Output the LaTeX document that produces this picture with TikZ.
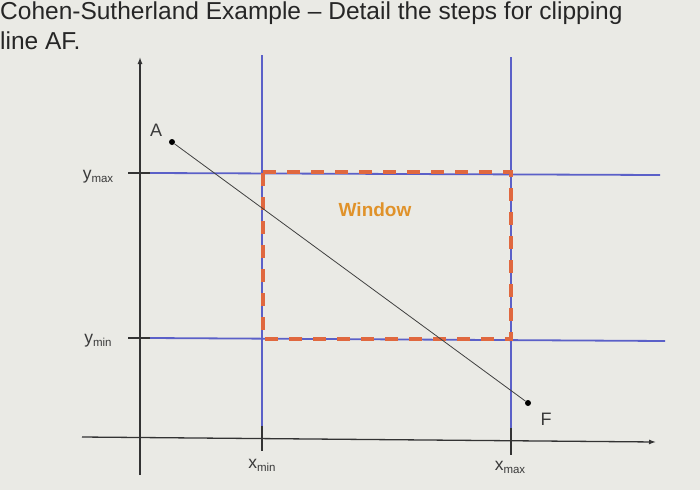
\documentclass[tikz,border=0pt]{standalone}
\usepackage{fontspec}
\usetikzlibrary{arrows.meta}
\setmainfont{Liberation Sans}
\definecolor{bg}{HTML}{EAEAE5}
\definecolor{gridblue}{HTML}{5B60C8}
\definecolor{winred}{HTML}{E0683F}
\definecolor{wintext}{HTML}{E0922A}
\definecolor{axisc}{HTML}{333333}
\definecolor{txt}{HTML}{3A3A3A}
\newcommand{\lbl}[2]{{\fontsize{17.5}{17.5}\selectfont #1}{\fontsize{11.5}{11.5}\selectfont\raisebox{-3pt}{#2}}}
\begin{document}
\begin{tikzpicture}[x=1pt,y=-1pt,
  gridline/.style={draw=gridblue,line width=1.8pt},
  axisline/.style={draw=axisc,line width=1.3pt},
  tickline/.style={draw=axisc,line width=1.3pt},
  winbox/.style={draw=winred,line width=3.8pt,dash pattern=on 13pt off 11pt},
  dotnode/.style={circle,fill=black,inner sep=0pt,minimum size=6pt},
  ptlabel/.style={text=txt,font=\fontsize{18}{18}\selectfont},
  axlabel/.style={text=txt,inner sep=0pt}]
\fill[bg] (0,0) rectangle (700,490);
\useasboundingbox (0,0) rectangle (700,490);
% title
\node[anchor=base west,inner sep=0pt,text=black!85,font=\fontsize{24.5}{24.5}\selectfont] (t1) at (0,19) {Cohen-Sutherland Example – Detail the steps for clipping};
\node[anchor=base west,inner sep=0pt,text=black!85,font=\fontsize{24.5}{24.5}\selectfont] (t2) at (0,49) {line AF.};
% coordinates
\coordinate (yaxT) at (140,57);
\coordinate (yaxB) at (140,475);
\coordinate (xaxL) at (82,437);
\coordinate (xaxR) at (656,442);
% blue grid lines
\draw[gridline] (262,55) -- (262,426);
\draw[gridline] (511,57) -- (511,428);
\draw[gridline] (150,173) -- (660,175);
\draw[gridline] (150,338) -- (665,341);
% ticks
\draw[tickline] (128,173) -- (150,173);
\draw[tickline] (128,338) -- (150,338);
\draw[tickline] (262,426) -- (262,451);
\draw[tickline] (511,428) -- (511,455);
% axes
\draw[axisline,-{Latex[length=7pt,width=5pt]}] (yaxB) -- (yaxT);
\draw[axisline,-{Latex[length=7pt,width=5pt]}] (xaxL) -- (xaxR);
% window
\draw[winbox] (263,172) -- (511,172) -- (511,339) -- (263,339) -- cycle;
\node[text=wintext,font=\bfseries\fontsize{19}{19}\selectfont] (win) at (375,210) {Window};
% points
\node[dotnode] (A) at (172,142) {};
\node[dotnode] (F) at (528,403) {};
\draw[draw=black!75,line width=0.8pt] (A) -- (F);
\node[ptlabel] (la) at (156,130) {A};
\node[ptlabel] (lf) at (546,419) {F};
% axis labels
\node[axlabel] (ymax) at (98,177) {\lbl{y}{max}};
\node[axlabel] (ymin) at (98,341) {\lbl{y}{min}};
\node[axlabel] (xmin) at (262,465) {\lbl{x}{min}};
\node[axlabel] (xmax) at (510,467) {\lbl{x}{max}};
\end{tikzpicture}
\end{document}
